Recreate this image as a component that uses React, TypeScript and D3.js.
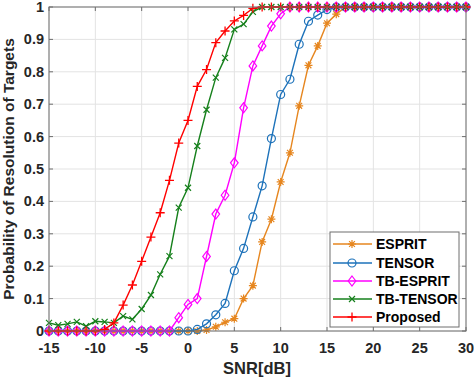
import React from "react";
import * as d3 from "d3";

const snr = d3.range(-15, 31);
const ones = (n: number) => Array(n).fill(1);
const zeros = (n: number) => Array(n).fill(0);

// values for SNR -15..30 (46 points)
const esprit = [
  ...zeros(17), // -15..1
  0.003, 0.013, 0.027, 0.038, 0.1, 0.14, 0.275, 0.345, 0.46, 0.55, 0.695, 0.82, 0.88, 0.95, 0.978, // 2..16
  ...ones(14), // 17..30
];
const tensor = [
  ...zeros(16), // -15..0
  0.005, 0.022, 0.05, 0.085, 0.186, 0.255, 0.352, 0.448, 0.594, 0.73, 0.777, 0.885, 0.956, 0.975, 0.992, // 1..15
  ...ones(15), // 16..30
];
const tbEsprit = [
  ...zeros(14), // -15..-2
  0.041, 0.082, 0.1, 0.23, 0.361, 0.419, 0.519, 0.689, 0.818, 0.88, 0.941, 0.979, // -1..10
  ...ones(20), // 11..30
];
const tbTensor = [
  0.025, 0.018, 0.022, 0.028, 0.015, 0.03, 0.028, 0.025, 0.046, 0.036, 0.068, 0.111, 0.175, 0.231, 0.381, 0.442,
  0.571, 0.683, 0.782, 0.843, 0.931, 0.947, 0.985, // -15..7
  ...ones(23), // 8..30
];
const proposed = [
  0, 0, 0, 0, 0, 0, 0.005, 0.025, 0.08, 0.142, 0.215, 0.29, 0.365, 0.465, 0.58, 0.65, 0.755, 0.807, 0.89, 0.926,
  0.957, 0.974, 0.996, // -15..7
  ...ones(23), // 8..30
];

const seriesNames = ["ESPRIT", "TENSOR", "TB-ESPRIT", "TB-TENSOR", "Proposed"];
const seriesData = [esprit, tensor, tbEsprit, tbTensor, proposed];
const seriesColors = ["#E6861F", "#1D72BA", "#FF00FF", "#16801C", "#FF0000"];
const seriesMarkers = ["star", "circle", "diamond", "x", "plus"];

const xTicks = [-15, -10, -5, 0, 5, 10, 15, 20, 25, 30];
const yTicks = [0, 0.1, 0.2, 0.3, 0.4, 0.5, 0.6, 0.7, 0.8, 0.9, 1];

const W = 474, H = 379;
const L = 49, R = 466, T = 7, B = 331;

function Marker({ type, x, y, color }: { type: string; x: number; y: number; color: string }) {
  const sw = 1.2;
  if (type === "circle") return <circle cx={x} cy={y} r={4} fill="none" stroke={color} strokeWidth={sw} />;
  if (type === "diamond")
    return (
      <path d={`M${x},${y - 5}L${x + 3.8},${y}L${x},${y + 5}L${x - 3.8},${y}Z`} fill="none" stroke={color} strokeWidth={sw} />
    );
  if (type === "x") {
    const s = 3;
    return <path d={`M${x - s},${y - s}L${x + s},${y + s}M${x - s},${y + s}L${x + s},${y - s}`} stroke={color} strokeWidth={sw} />;
  }
  if (type === "plus") {
    const s = 4.5;
    return <path d={`M${x - s},${y}L${x + s},${y}M${x},${y - s}L${x},${y + s}`} stroke={color} strokeWidth={1.3} />;
  }
  const s = 4, d = 2.9;
  return (
    <path
      d={`M${x - s},${y}L${x + s},${y}M${x},${y - s}L${x},${y + s}M${x - d},${y - d}L${x + d},${y + d}M${x - d},${y + d}L${x + d},${y - d}`}
      stroke={color}
      strokeWidth={sw}
    />
  );
}

export default function App() {
  const x = d3.scaleLinear().domain([-15, 30]).range([L, R]);
  const y = d3.scaleLinear().domain([0, 1]).range([B, T]);
  const line = d3
    .line<number>()
    .x((_, i) => x(snr[i]))
    .y((v) => y(v));
  const font = "'Liberation Sans', Arial, sans-serif";
  const axisColor = "#6e6e6e";

  const legX = 330, legY = 232, legW = 129, legH = 95;
  const legRows = [244, 263, 281, 299, 317];

  return (
    <svg width={W} height={H} style={{ position: "absolute", left: 0, top: 0 }} fontFamily={font}>
      <rect x={0} y={0} width={W} height={H} fill="#fff" />
      {xTicks.map((t) => (
        <line key={"gx" + t} x1={x(t)} x2={x(t)} y1={T} y2={B} stroke="#e3e3e3" strokeWidth={1} />
      ))}
      {yTicks.map((t) => (
        <line key={"gy" + t} x1={L} x2={R} y1={y(t)} y2={y(t)} stroke="#e3e3e3" strokeWidth={1} />
      ))}
      {seriesData.map((data, si) => (
        <g key={seriesNames[si]}>
          <path d={line(data) || ""} fill="none" stroke={seriesColors[si]} strokeWidth={1.4} />
          {data.map((v, i) => (
            <Marker key={i} type={seriesMarkers[si]} x={x(snr[i])} y={y(v)} color={seriesColors[si]} />
          ))}
        </g>
      ))}
      <rect x={L} y={T} width={R - L} height={B - T} fill="none" stroke={axisColor} strokeWidth={1} />
      {xTicks.map((t) => (
        <g key={"xt" + t}>
          <line x1={x(t)} x2={x(t)} y1={B} y2={B - 4} stroke={axisColor} />
          <line x1={x(t)} x2={x(t)} y1={T} y2={T + 4} stroke={axisColor} />
          <text x={x(t)} y={353} textAnchor="middle" fontSize={14.5} fontWeight="bold" fill="#262626">
            {t}
          </text>
        </g>
      ))}
      {yTicks.map((t) => (
        <g key={"yt" + t}>
          <line x1={L} x2={L + 4} y1={y(t)} y2={y(t)} stroke={axisColor} />
          <line x1={R} x2={R - 4} y1={y(t)} y2={y(t)} stroke={axisColor} />
          <text x={44} y={y(t) + 5} textAnchor="end" fontSize={14.5} fontWeight="bold" fill="#262626">
            {t === 0 || t === 1 ? String(t) : t.toFixed(1)}
          </text>
        </g>
      ))}
      <text x={257} y={374} textAnchor="middle" fontSize={16.5} fontWeight="bold" fill="#262626">
        SNR[dB]
      </text>
      <text
        transform={`translate(14,${(28 + 310) / 2}) rotate(-90)`}
        textAnchor="middle"
        fontSize={15.5}
        fontWeight="bold"
        fill="#262626"
      >
        Probability of Resolution of Targets
      </text>
      <rect x={legX} y={legY} width={legW} height={legH} fill="#fff" stroke={axisColor} strokeWidth={1} />
      {seriesNames.map((n, i) => (
        <g key={"lg" + n}>
          <line x1={333} x2={372} y1={legRows[i]} y2={legRows[i]} stroke={seriesColors[i]} strokeWidth={1.4} />
          <Marker type={seriesMarkers[i]} x={352} y={legRows[i]} color={seriesColors[i]} />
          <text x={376} y={legRows[i] + 5} fontSize={14} fontWeight="bold" fill="#000">
            {n}
          </text>
        </g>
      ))}
    </svg>
  );
}
